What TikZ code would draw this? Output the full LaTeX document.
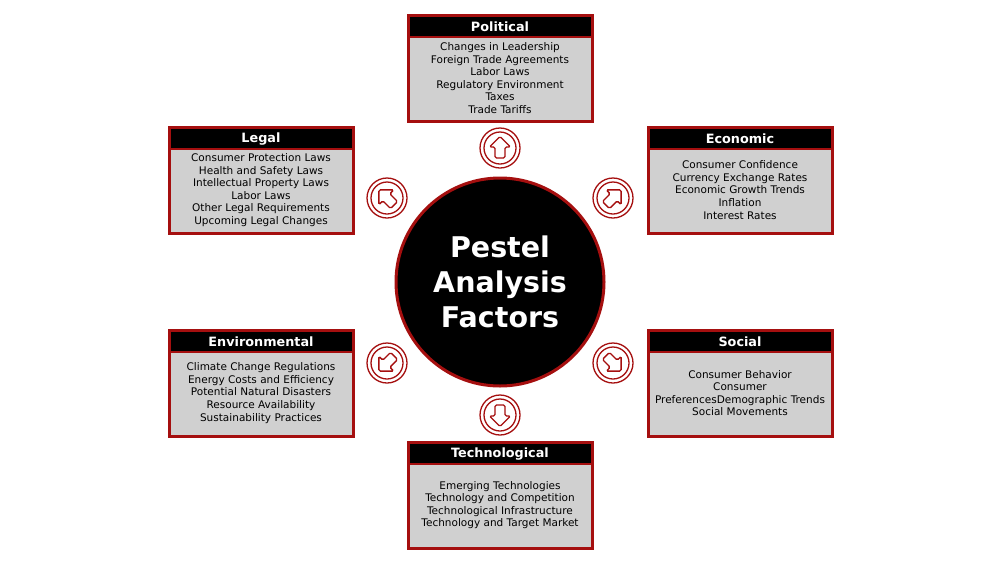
\documentclass[tikz,border=0pt]{standalone}
\usepackage{fontspec}
\setmainfont{DejaVu Sans}
\usetikzlibrary{calc}
\definecolor{dred}{HTML}{A50F0F}
\definecolor{boxgray}{HTML}{D0D0D0}
\begin{document}
\begin{tikzpicture}[x=1pt,y=-1pt,
  bodytext/.style={font=\fontsize{10.5}{12.6}\selectfont,align=center},
  headtext/.style={font=\fontsize{12.8}{14}\bfseries\selectfont,text=white}]
\useasboundingbox (0,0) rectangle (1000,563);
\newcommand{\pbox}[5]{% name, x, y, title, body
  \fill[boxgray] (#2,#3) rectangle ++(184,106);
  \fill[black] (#2,#3) rectangle ++(184,22);
  \draw[dred,line width=1.2pt] (#2,#3+22) -- ++(184,0);
  \draw[dred,line width=3pt] (#2,#3) rectangle ++(184,106);
  \node[headtext] (#1h) at (#2+92,#3+12) {#4};
  \node[bodytext] (#1) at (#2+92,#3+63) {#5};
}
\pbox{pol}{408}{15}{Political}{Changes in Leadership\\Foreign Trade Agreements\\Labor Laws\\Regulatory Environment\\Taxes\\Trade Tariffs}
\pbox{leg}{169}{127}{Legal}{Consumer Protection Laws\\Health and Safety Laws\\Intellectual Property Laws\\Labor Laws\\Other Legal Requirements\\Upcoming Legal Changes}
\pbox{eco}{648}{127}{Economic}{Consumer Confidence\\Currency Exchange Rates\\Economic Growth Trends\\Inflation\\Interest Rates}
\pbox{env}{169}{330}{Environmental}{Climate Change Regulations\\Energy Costs and Efficiency\\Potential Natural Disasters\\Resource Availability\\Sustainability Practices}
\pbox{soc}{648}{330}{Social}{Consumer Behavior\\Consumer\\PreferencesDemographic Trends\\Social Movements}
\pbox{tec}{408}{442}{Technological}{Emerging Technologies\\Technology and Competition\\Technological Infrastructure\\Technology and Target Market}
\node[circle,fill=black,draw=dred,line width=3pt,minimum size=208pt,
  text=white,align=center,font=\fontsize{28.5}{35}\bfseries\selectfont] (c) at (500,282) {Pestel\\Analysis\\Factors};
\newcommand{\icon}[4]{% name, x, y, rot
  \coordinate (#1) at (#2,#3);
  \draw[dred,line width=1.3pt,fill=white] (#1) circle (20);
  \draw[dred,line width=1.3pt] (#1) circle (16);
  \draw[dred,line width=1.3pt,rounded corners=1.5pt,rotate around={#4:(#1)}]
    ($(#1)+(0,-11.5)$) -- ++(10.5,10.5) -- ++(-5.5,0) -- ++(0,11) -- ++(-10,0) -- ++(0,-11) -- ++(-5.5,0) -- cycle;
}
\icon{iu}{500}{148}{0}
\icon{id}{500}{415}{180}
\icon{iul}{387}{198}{45}
\icon{iur}{613}{198}{-45}
\icon{ill}{387}{363}{135}
\icon{ilr}{613}{363}{-135}
\end{tikzpicture}
\end{document}
